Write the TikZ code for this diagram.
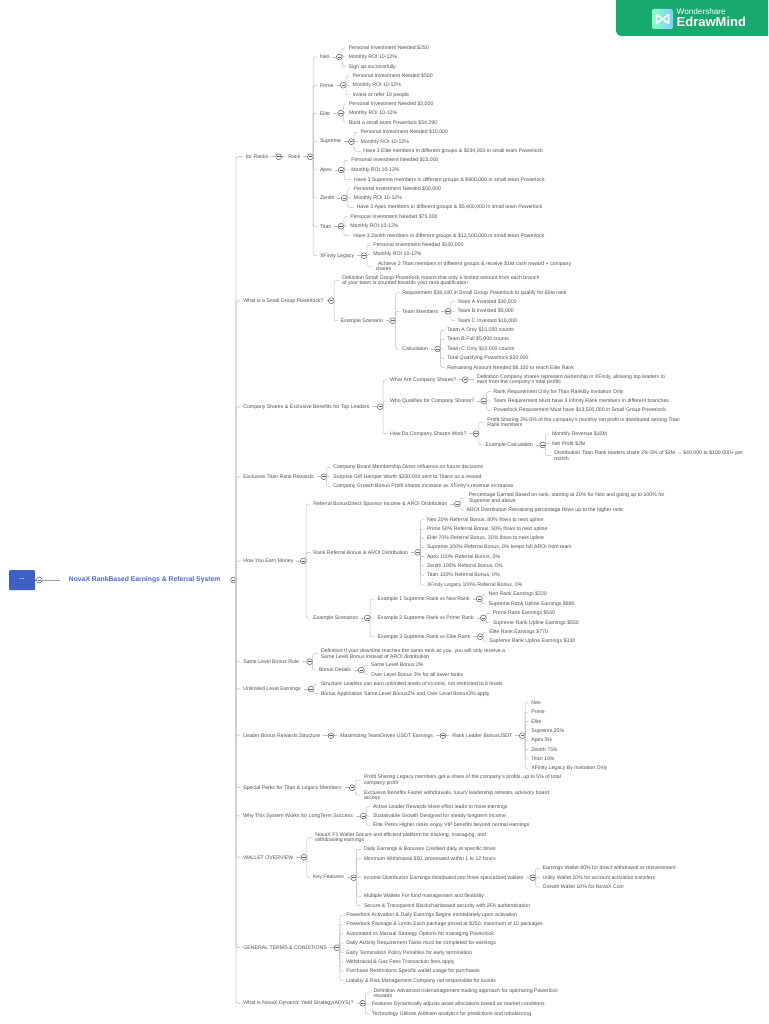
\documentclass[tikz,border=0pt]{standalone}
\usepackage{fontspec}
\setmainfont{Liberation Sans}
\definecolor{txtc}{HTML}{505050}
\definecolor{linec}{HTML}{BDBDBD}
\definecolor{togc}{HTML}{666666}
\definecolor{rootb}{HTML}{3F5FC6}
\definecolor{titlec}{HTML}{4A6AD0}
\definecolor{logog}{HTML}{18A96F}
\tikzset{
 txt/.style={anchor=west,inner sep=0pt,outer sep=0pt,align=left,text=txtc,font=\fontsize{5.2}{5.3}\selectfont},
 tog/.style={circle,draw=togc,line width=.55pt,minimum size=5.8pt,inner sep=0pt,outer sep=0pt,fill=white,
   path picture={\draw[togc,line width=.6pt] ([xshift=1.1pt]path picture bounding box.west) -- ([xshift=-1.1pt]path picture bounding box.east);}},
 lnk/.style={draw=linec,line width=.5pt,shorten <=3pt},
 lnkb/.style={draw=linec,line width=.5pt,shorten >=3pt},
 kid/.style={draw=linec,line width=.5pt,rounded corners=2pt,shorten >=3pt},
 top/.style={draw=linec!80,line width=.9pt,rounded corners=2.5pt,shorten >=3pt},
}
\newcommand\tn[4]{\node[txt] (#1) at (#2,#3) {#4};}
\newcommand\tg[3]{\node[tog] (#1) at (#2,#3) {};}
\newcommand\pc[2]{\draw[lnk] (#1.east) -- (#2.west);}
\newcommand\pb[2]{\draw[lnkb] (#1.east) -- (#2.west);}
\newcommand\kd[2]{\foreach \k in {#2} {\draw[kid] (#1.east) |- (\k.west);}}
\begin{document}
\begin{tikzpicture}[x=1pt,y=-1pt]
\useasboundingbox (0,0) rectangle (768,1024);
\fill[white] (0,0) rectangle (768,1024);
% logo
\fill[logog] (616,0) [rounded corners=5pt] -- (616,36) [sharp corners] -- (768,36) -- (768,0) -- cycle;
\shade[left color=green!55!cyan!45!white,right color=cyan!60!blue!50!white,rounded corners=2pt] (652,9) rectangle (673,29);
\draw[white,line width=1.5pt,line join=round] (656.5,14.5) -- (662.5,19) -- (668.5,14.5) -- (668.5,23.5) -- (662.5,19) -- (656.5,23.5) -- cycle;
\node[anchor=west,inner sep=0pt,text=white,font=\fontsize{8.2}{8}\selectfont] (lg1) at (676.5,11.5) {Wondershare};
\node[anchor=west,inner sep=0pt,text=white,font=\bfseries\fontsize{13}{13}\selectfont] (lg2) at (676.5,21.5) {EdrawMind};
% root
\node[draw=none,fill=rootb,rounded corners=1pt,minimum width=26pt,minimum height=20pt,inner sep=0pt,text=white,font=\bfseries\fontsize{6}{6}\selectfont] (root) at (22,580) {\raisebox{2.5pt}{...}};
\tg{rootc}{39.3}{580}
\node[anchor=west,inner sep=0pt,text=titlec,font=\bfseries\fontsize{6.8}{6.8}\selectfont] (title) at (68.7,580) {NovaX RankBased Earnings \& Referral System};
\draw[draw=linec!85!black,line width=1pt,shorten >=9pt] (rootc.east) -- (title.west);
\draw[togc,line width=.3pt] (root.east) -- (rootc.west);
\tg{tc}{233.5}{580}
\coordinate (trunk) at (236,580);
% top level
\tn{t1}{246}{156.7}{for Ranks}
\tn{t2}{243.3}{300.7}{What is a Small Group  Powerlock?}
\tn{t3}{243.3}{406.7}{Company Shares \& Exclusive Benefits for Top Leaders}
\tn{t4}{243.3}{476.7}{Exclusive Titan Rank Rewards}
\tn{t5}{243.3}{561}{How You Earn Money}
\tn{t6}{243.3}{661.7}{Same Level Bonus Rule}
\tn{t7}{243.3}{689}{Unlimited Level Earnings}
\tn{t8}{243.3}{735.7}{Leader Bonus Rewards Structure}
\tn{t9}{243.3}{787.7}{Special Perks for Titan \& Legacy Members}
\tn{t10}{243.3}{816}{Why This System Works for LongTerm Success}
\tn{t11}{243.3}{857.3}{WALLET OVERVIEW}
\tn{t12}{243.3}{947.7}{GENERAL TERMS \& CONDITIONS}
\tn{t13}{243.3}{1003.3}{What is NovaX Dynamic Yield Strategy(ADYS)?}
\foreach \k in {t1,t2,t3,t4,t5,t6,t7,t8,t9,t10,t11,t12,t13} {\draw[top] (trunk) |- (\k.west);}
% for ranks
\tg{c1}{278.7}{156.7}\pc{t1}{c1}
\tn{rank}{288.3}{156.7}{Rank}\pb{c1}{rank}
\tg{c1r}{310.3}{156.7}\pc{rank}{c1r}
\tn{neo}{320}{57}{Neo}
\tn{prime}{320}{85.3}{Prime}
\tn{elite}{320}{113.3}{Elite}
\tn{sup}{320}{141.7}{Supreme}
\tn{apex}{320}{170}{Apex}
\tn{zen}{320}{198}{Zenith}
\tn{tit}{320}{226.3}{Titan}
\tn{xfl}{320}{255.7}{XFinity Legacy}
\kd{c1r}{neo,prime,elite,sup,apex,zen,tit,xfl}
\tg{cneo}{339.3}{57}\pc{neo}{cneo}
\tn{neoa}{348.7}{48}{Personal Investment Needed \$250}
\tn{neob}{348.7}{57}{Monthly ROI 10-12\%}
\tn{neoc}{348.7}{66.7}{Sign up successfully}
\kd{cneo}{neoa,neob,neoc}
\tg{cpr}{343.3}{85.3}\pc{prime}{cpr}
\tn{pra}{352.7}{76}{Personal Investment Needed \$500}
\tn{prb}{352.7}{85.3}{Monthly ROI 10-12\%}
\tn{prc}{352.7}{95}{Invest or refer 10 people}
\kd{cpr}{pra,prb,prc}
\tg{cel}{340.7}{113.3}\pc{elite}{cel}
\tn{ela}{349}{104}{Personal Investment Needed \$3,000}
\tn{elb}{349}{113.3}{Monthly ROI 10-12\%}
\tn{elc}{349}{123}{Build a small team Powerlock \$34,290}
\kd{cel}{ela,elb,elc}
\tg{csu}{351.3}{141.7}\pc{sup}{csu}
\tn{sua}{360.7}{132.3}{Personal Investment Needed \$10,000}
\tn{sub}{360.7}{141.7}{Monthly ROI 10-12\%}
\tn{suc}{363.3}{151.3}{Have 3 Elite members in different groups \& \$234,000 in small team  Powerlock}
\kd{csu}{sua,sub,suc}
\tg{cap}{341.3}{170}\pc{apex}{cap}
\tn{apa}{351.3}{160.3}{Personal Investment Needed \$15,000}
\tn{apb}{351.3}{170}{Monthly ROI 10-12\%}
\tn{apc}{354}{179.7}{Have 3 Supreme members in different groups \& \$900,000 in small team  Powerlock}
\kd{cap}{apa,apb,apc}
\tg{cze}{344.3}{198}\pc{zen}{cze}
\tn{zea}{353.7}{189}{Personal Investment Needed \$50,000}
\tn{zeb}{353.7}{198}{Monthly ROI 10-12\%}
\tn{zec}{356.7}{207.3}{Have 3 Apex members in different groups \& \$5,400,000 in small team  Powerlock}
\kd{cze}{zea,zeb,zec}
\tg{cti}{341}{226.3}\pc{tit}{cti}
\tn{tia}{350.3}{216.7}{Personal Investment Needed \$75,000}
\tn{tib}{350.3}{226.3}{Monthly ROI 10-12\%}
\tn{tic}{353.3}{235.7}{Have 3 Zenith members in different groups \& \$13,500,000 in small team  Powerlock}
\kd{cti}{tia,tib,tic}
\tg{cxf}{364}{255.7}\pc{xfl}{cxf}
\tn{xfa}{373.3}{245}{Personal Investment Needed \$100,000}
\tn{xfb}{373.3}{254.3}{Monthly ROI 10-12\%}
\tn{xfc}{375.7}{266.2}{\hspace*{2.3pt}Achieve 3 Titan members in different groups \& receive \$1M cash reward + company\\shares}
\kd{cxf}{xfa,xfb,xfc}
% small group
\tg{c2}{331.3}{300.7}\pc{t2}{c2}
\tn{sga}{342.3}{280.7}{Definition Small Group Powerlock means that only a limited amount from each branch\\of your team is counted towards your rank qualification}
\tn{sgb}{340.7}{320.7}{Example Scenario}
\kd{c2}{sga,sgb}
\tg{csg}{392.7}{320.7}\pc{sgb}{csg}
\tn{sgr}{402.3}{292.7}{Requirement \$38,100 in Small Group Powerlock to qualify for Elite rank}
\tn{sgt}{402.3}{311.3}{Team Members}
\tn{sgc}{402.3}{349}{Calculation}
\kd{csg}{sgr,sgt,sgc}
\tg{cst}{448}{311.3}\pc{sgt}{cst}
\tn{sta}{457.7}{301.7}{Team A Invested \$30,000}
\tn{stb}{457.7}{311.3}{Team B Invested \$5,000}
\tn{stc}{457.7}{320.7}{Team C Invested \$10,000}
\kd{cst}{sta,stb,stc}
\tg{csc}{437.7}{349}\pc{sgc}{csc}
\tn{sca}{447.3}{330.3}{Team A Only \$15,000 counts}
\tn{scb}{447.3}{339.3}{Team B Full \$5,000 counts}
\tn{scc}{447.3}{349}{Team C Only \$10,000 counts}
\tn{scd}{447.3}{358.3}{Total Qualifying Powerlock \$30,000}
\tn{sce}{447.3}{367.7}{Remaining Amount Needed \$8,100 to reach Elite Rank}
\kd{csc}{sca,scb,scc,scd,sce}
% company shares
\tg{c3}{380.3}{406.7}\pc{t3}{c3}
\tn{csa}{390}{379.7}{What Are Company Shares?}
\tn{csb}{390}{401}{Who Qualifies for Company Shares?}
\tn{csd}{390}{433.7}{How Do Company Shares Work?}
\kd{c3}{csa,csb,csd}
\tg{cca}{465.3}{379.7}\pc{csa}{cca}
\tn{caa}{477}{379.7}{Definition Company shares represent ownership in XFinity, allowing top leaders to\\earn from the company's total profits}
\draw[kid] (cca.east) -- (caa.west);
\tg{ccb}{483.7}{401}\pc{csb}{ccb}
\tn{cba}{493.7}{391.7}{Rank Requirement Only for Titan RankBy Invitation Only}
\tn{cbb}{493.7}{401}{Team Requirement Must have 3 Infinity Rank members in different branches}
\tn{cbc}{493.7}{410.3}{Powerlock Requirement Must have \$13,500,000 in Small Group  Powerlock}
\kd{ccb}{cba,cbb,cbc}
\tg{ccd}{476}{433.7}\pc{csd}{ccd}
\tn{cda}{487.3}{422}{Profit Sharing 2\%-5\% of the company's monthly net profit is distributed among Titan\\Rank members}
\tn{cdb}{485.7}{445}{Example Calculation}
\kd{ccd}{cda,cdb}
\tg{cec}{542.7}{445}\pc{cdb}{cec}
\tn{eca}{552}{434}{Monthly Revenue \$10M}
\tn{ecb}{552}{443.3}{Net Profit \$2M}
\tn{ecc}{554.3}{455.5}{Distribution Titan Rank leaders share 2\%-5\% of \$2M → \$40,000 to \$100,000+ per\\month}
\kd{cec}{eca,ecb,ecc}
% titan rewards
\tg{c4}{323.7}{476.7}\pc{t4}{c4}
\tn{tra}{333.3}{467.3}{Company Board Membership Direct influence on future decisions}
\tn{trb}{333.3}{476.7}{Surprise Gift Hamper Worth \$200,000 sent to Titans as a reward}
\tn{trc}{333.3}{486.3}{Company Growth Bonus Profit shares increase as XFinity's revenue increases}
\kd{c4}{tra,trb,trc}
% earn money
\tg{c5}{303.3}{561}\pc{t5}{c5}
\tn{ema}{313.3}{504}{Referral BonusDirect Sponsor Income \& AROI Distribution}
\tn{emb}{313.3}{552.3}{Rank Referral Bonus \& AROI Distribution}
\tn{emc}{313.3}{618}{Example Scenarios}
\kd{c5}{ema,emb,emc}
\tg{cea}{457.3}{504}\pc{ema}{cea}
\tn{eaa}{469}{498.2}{Percentage Earned Based on rank, starting at 20\% for Neo and going up to 100\% for\\Supreme and above}
\tn{eab}{466.7}{510}{AROI Distribution Remaining percentage flows up to the higher rank}
\kd{cea}{eaa,eab}
\tg{ceb}{417.7}{552.3}\pc{emb}{ceb}
\tn{eba}{427}{519.7}{Neo 20\% Referral Bonus, 80\% flows to next upline}
\tn{ebb}{427}{529}{Prime 50\% Referral Bonus, 50\% flows to next upline}
\tn{ebc}{427}{538.3}{Elite 70\% Referral Bonus, 30\% flows to next upline}
\tn{ebd}{427}{547.3}{Supreme 100\% Referral Bonus, 0\% keeps full AROI from team}
\tn{ebe}{427}{556.7}{Apex 100\% Referral Bonus, 0\%}
\tn{ebf}{427}{566}{Zenith 100\% Referral Bonus, 0\%}
\tn{ebg}{427}{575.3}{Titan 100\% Referral Bonus, 0\%}
\tn{ebh}{427}{585}{XFinity Legacy 100\% Referral Bonus, 0\%}
\kd{ceb}{eba,ebb,ebc,ebd,ebe,ebf,ebg,ebh}
\tg{cee}{367.3}{618}\pc{emc}{cee}
\tn{exa}{377.7}{599}{Example 1 Supreme Rank vs Neo Rank}
\tn{exb}{377.7}{618}{Example 2 Supreme Rank vs Prime Rank}
\tn{exc}{377.7}{636.7}{Example 3 Supreme Rank vs Elite Rank}
\kd{cee}{exa,exb,exc}
\tg{cxa}{479.3}{599}\pc{exa}{cxa}
\tn{xaa}{488.7}{594.3}{Neo Rank Earnings \$220}
\tn{xab}{488.7}{604}{Supreme Rank Upline Earnings \$880}
\kd{cxa}{xaa,xab}
\tg{cxb}{483.3}{618}\pc{exb}{cxb}
\tn{xba}{493}{613.3}{Prime Rank Earnings \$550}
\tn{xbb}{493}{622.7}{Supreme Rank Upline Earnings \$550}
\kd{cxb}{xba,xbb}
\tg{cxc}{480.3}{636.7}\pc{exc}{cxc}
\tn{xca}{489.3}{632}{Elite Rank Earnings \$770}
\tn{xcb}{489.3}{641.3}{Supreme Rank Upline Earnings \$330}
\kd{cxc}{xca,xcb}
% same level
\tg{c6}{309.7}{661.7}\pc{t6}{c6}
\tn{sla}{321}{653.7}{Definition If your downline reaches the same rank as you, you will only receive a\\Same Level Bonus instead of AROI distribution}
\tn{slb}{319}{670}{Bonus Details}
\kd{c6}{sla,slb}
\tg{csl}{361.3}{670}\pc{slb}{csl}
\tn{bda}{371}{665}{Same Level Bonus 2\%}
\tn{bdb}{371}{674.3}{Over Level Bonus 3\% for all lower tanks}
\kd{csl}{bda,bdb}
% unlimited
\tg{c7}{311}{689}\pc{t7}{c7}
\tn{ula}{321}{684}{Structure Leaders can earn unlimited levels of income, not restricted to 8 levels}
\tn{ulb}{321}{693.7}{Bonus Application Same Level Bonus2\% and Over Level Bonus3\% apply}
\kd{c7}{ula,ulb}
% leader
\tg{c8}{331}{735.7}\pc{t8}{c8}
\tn{lba}{340.3}{735.7}{Maximizing TeamDriven USDT Earnings}\pb{c8}{lba}
\tg{clb}{443}{735.7}\pc{lba}{clb}
\tn{lbb}{452.3}{735.7}{Rank Leader BonusUSDT}\pb{clb}{lbb}
\tg{clc}{522.3}{735.7}\pc{lbb}{clc}
\tn{lca}{531.3}{702.7}{Neo}
\tn{lcb}{531.3}{712}{Prime}
\tn{lcc}{531.3}{721.3}{Elite}
\tn{lcd}{531.3}{731}{Supreme 25\%}
\tn{lce}{531.3}{740.3}{Apex 5\%}
\tn{lcf}{531.3}{749.7}{Zenith 75\%}
\tn{lcg}{531.3}{759}{Titan 10\%}
\tn{lch}{531.3}{768.3}{XFinity Legacy By Invitation Only}
\kd{clc}{lca,lcb,lcc,lcd,lce,lcf,lcg,lch}
% perks
\tg{c9}{352.3}{787.7}\pc{t9}{c9}
\tn{pka}{364}{780}{Profit Sharing Legacy members get a share of the company's profits, up to 5\% of total\\company profit}
\tn{pkb}{364}{795}{Exclusive Benefits Faster withdrawals, luxury leadership retreats, advisory board\\access}
\kd{c9}{pka,pkb}
% why
\tg{c10}{363.3}{816}\pc{t10}{c10}
\tn{wha}{373}{806.7}{Active Leader Rewards More effort leads to more earnings}
\tn{whb}{373}{816}{Sustainable Growth Designed for steady longterm income}
\tn{whc}{373}{825.3}{Elite Perks Higher ranks enjoy VIP benefits beyond normal earnings}
\kd{c10}{wha,whb,whc}
% wallet
\tg{c11}{304}{857.3}\pc{t11}{c11}
\tn{wla}{315.3}{837.7}{NovaX F1 Wallet Secure and efficient platform for tracking, managing, and\\withdrawing earnings}
\tn{wlb}{313}{877.7}{Key Features}
\kd{c11}{wla,wlb}
\tg{ckf}{353.7}{877.7}\pc{wlb}{ckf}
\tn{kfa}{364}{849.3}{Daily Earnings \& Bonuses Credited daily at specific times}
\tn{kfb}{364}{858.7}{Minimum Withdrawal \$50, processed within 1 to 12 hours}
\tn{kfc}{364}{877.7}{Income Distribution Earnings distributed into three specialized wallets}
\tn{kfd}{364}{896.3}{Multiple Wallets For fund management and flexibility}
\tn{kfe}{364}{905.7}{Secure \& Transparent Blockchainbased security with 2FA authentication}
\kd{ckf}{kfa,kfb,kfc,kfd,kfe}
\tg{cid}{532.7}{877.7}\pc{kfc}{cid}
\tn{ida}{542.7}{868.3}{Earnings Wallet 80\% for direct withdrawal or reinvestment}
\tn{idb}{542.7}{877.7}{Utility Wallet 10\% for account activation transfers}
\tn{idc}{542.7}{887}{Growth Wallet 10\% for NovaX Coin}
\kd{cid}{ida,idb,idc}
% terms
\tg{c12}{337}{947.7}\pc{t12}{c12}
\tn{gta}{346.3}{915}{Powerlock Activation \& Daily Earnings Begins immediately upon activation}
\tn{gtb}{346.3}{924.3}{Powerlock Package \& Limits Each package priced at \$250, maximum of 10 packages}
\tn{gtc}{346.3}{933.7}{Automated vs Manual Strategy Options for managing  Powerlock}
\tn{gtd}{346.3}{943}{Daily Activity Requirement Tasks must be completed for earnings}
\tn{gte}{346.3}{952.7}{Early Termination Policy Penalties for early termination}
\tn{gtf}{346.3}{962}{Withdrawal \& Gas Fees Transaction fees apply}
\tn{gtg}{346.3}{971.3}{Purchase Restrictions Specific wallet usage for purchases}
\tn{gth}{346.3}{980.7}{Liability \& Risk Management Company not responsible for losses}
\kd{c12}{gta,gtb,gtc,gtd,gte,gtf,gtg,gth}
% adys
\tg{c13}{362.7}{1003.3}\pc{t13}{c13}
\tn{ada}{373.7}{992.8}{Definition Advanced riskmanagement trading approach for optimizing Powerlock\\rewards}
\tn{adb}{372}{1004.3}{Features Dynamically adjusts asset allocations based on market conditions}
\tn{adc}{372}{1014}{Technology Utilizes AIdriven analytics for predictions and rebalancing}
\kd{c13}{ada,adb,adc}
\end{tikzpicture}
\end{document}
